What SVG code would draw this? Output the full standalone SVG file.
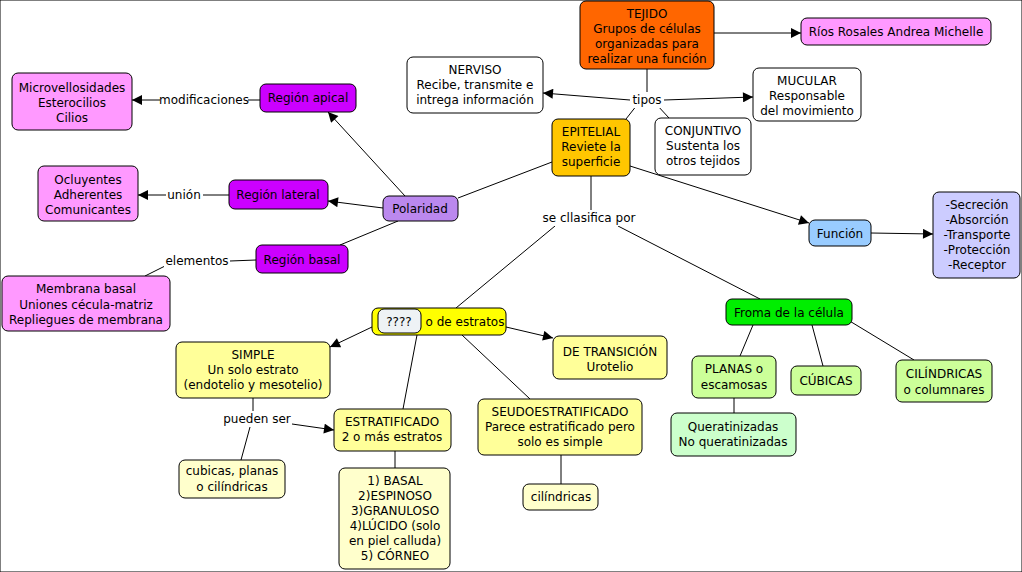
<svg xmlns="http://www.w3.org/2000/svg" width="1022" height="572" viewBox="0 0 1022 572">
<style>
text{font-family:"DejaVu Sans",Verdana,sans-serif;font-size:12px;text-anchor:middle;fill:#000}
rect{stroke:#000;stroke-width:1}
.c line{stroke:#000;stroke-width:1}
.lb{fill:#fff;stroke:none}
</style>
<defs><marker id="a" viewBox="0 0 10 10" refX="10" refY="5" markerWidth="12" markerHeight="10" markerUnits="userSpaceOnUse" orient="auto"><path d="M0,0L10,5L0,10z" fill="#000"/></marker></defs>
<rect width="1022" height="572" fill="#fff" stroke="none"/>
<g class="c">
<line x1="714" y1="33" x2="801" y2="33" marker-end="url(#a)"/>
<line x1="647" y1="69" x2="647" y2="92"/>
<line x1="630" y1="100" x2="543" y2="93" marker-end="url(#a)"/>
<line x1="664" y1="100" x2="753" y2="97" marker-end="url(#a)"/>
<line x1="637" y1="105" x2="626" y2="119"/>
<line x1="657" y1="105" x2="669" y2="118"/>
<line x1="552" y1="162" x2="458" y2="198"/>
<line x1="405" y1="196" x2="328" y2="112" marker-end="url(#a)"/>
<line x1="383" y1="208" x2="328" y2="201" marker-end="url(#a)"/>
<line x1="398" y1="221" x2="340" y2="245"/>
<line x1="260" y1="100" x2="246" y2="100"/>
<line x1="160" y1="100" x2="132" y2="100" marker-end="url(#a)"/>
<line x1="229" y1="195" x2="203" y2="195"/>
<line x1="166" y1="195" x2="138" y2="195" marker-end="url(#a)"/>
<line x1="256" y1="260" x2="230" y2="261"/>
<line x1="165" y1="266" x2="145" y2="276"/>
<line x1="630" y1="166" x2="809" y2="223" marker-end="url(#a)"/>
<line x1="871" y1="233" x2="933" y2="234" marker-end="url(#a)"/>
<line x1="591" y1="176" x2="591" y2="210"/>
<line x1="555" y1="226" x2="456" y2="308"/>
<line x1="618" y1="226" x2="760" y2="299"/>
<line x1="372" y1="327" x2="330" y2="347" marker-end="url(#a)"/>
<line x1="506" y1="327" x2="553" y2="338" marker-end="url(#a)"/>
<line x1="417" y1="335" x2="403" y2="409"/>
<line x1="462" y1="335" x2="530" y2="399"/>
<line x1="253" y1="398" x2="253" y2="411"/>
<line x1="292" y1="424" x2="334" y2="430" marker-end="url(#a)"/>
<line x1="250" y1="427" x2="241" y2="460"/>
<line x1="395" y1="451" x2="395" y2="468"/>
<line x1="561" y1="455" x2="561" y2="484"/>
<line x1="753" y1="325" x2="740" y2="356"/>
<line x1="812" y1="325" x2="823" y2="366"/>
<line x1="848" y1="320" x2="914" y2="360"/>
<line x1="734" y1="398" x2="734" y2="413"/>
</g>
<g id="labels">
<rect class="lb" x="630" y="92" width="34" height="16"/><text x="647" y="104">tipos</text>
<rect class="lb" x="160" y="92" width="88" height="16"/><text x="204" y="104">modificaciones</text>
<rect class="lb" x="166" y="187" width="36" height="16"/><text x="184" y="199">unión</text>
<rect class="lb" x="164" y="253" width="66" height="16"/><text x="197" y="265">elementos</text>
<rect class="lb" x="541" y="210" width="98" height="16"/><text x="589" y="222">se cllasifica por</text>
<rect class="lb" x="222" y="411" width="70" height="16"/><text x="257" y="423">pueden ser</text>
</g>
<g id="tejido"><rect x="580" y="1" width="134" height="68" rx="6" fill="#ff6600"/><text x="647" y="18">TEJIDO</text><text x="647" y="33">Grupos de células</text><text x="647" y="48">organizadas para</text><text x="647" y="63">realizar una función</text></g>
<g id="autor"><rect x="801" y="18" width="190" height="27" rx="6" fill="#ff99ff"/><text x="896" y="36">Ríos Rosales Andrea Michelle</text></g>
<g id="nerviso"><rect x="407" y="57" width="136" height="56" rx="6" fill="#fff"/><text x="475" y="74">NERVISO</text><text x="475" y="89">Recibe, transmite e</text><text x="475" y="104">intrega información</text></g>
<g id="mucular"><rect x="753" y="68" width="108" height="53" rx="6" fill="#fff"/><text x="807" y="85">MUCULAR</text><text x="807" y="100">Responsable</text><text x="807" y="115">del movimiento</text></g>
<g id="epitelial"><rect x="552" y="119" width="78" height="57" rx="6" fill="#ffc600"/><text x="591" y="136">EPITELIAL</text><text x="591" y="151">Reviete la</text><text x="591" y="166">superficie</text></g>
<g id="conjuntivo"><rect x="655" y="118" width="96" height="57" rx="6" fill="#fff"/><text x="703" y="135">CONJUNTIVO</text><text x="703" y="150">Sustenta los</text><text x="703" y="165">otros tejidos</text></g>
<g id="micro"><rect x="12" y="73" width="120" height="57" rx="6" fill="#ff99ff"/><text x="72" y="92">Microvellosidades</text><text x="72" y="107">Esterocilios</text><text x="72" y="122">Cilios</text></g>
<g id="apical"><rect x="260" y="84" width="96" height="28" rx="6" fill="#cc00ff"/><text x="308" y="102">Región apical</text></g>
<g id="ocluyentes"><rect x="38" y="166" width="100" height="55" rx="6" fill="#ff99ff"/><text x="88" y="184">Ocluyentes</text><text x="88" y="199">Adherentes</text><text x="88" y="214">Comunicantes</text></g>
<g id="lateral"><rect x="229" y="180" width="99" height="29" rx="6" fill="#cc00ff"/><text x="278" y="199">Región lateral</text></g>
<g id="polaridad"><rect x="383" y="196" width="75" height="25" rx="6" fill="#bb88ee"/><text x="420" y="213">Polaridad</text></g>
<g id="basal"><rect x="256" y="245" width="92" height="28" rx="6" fill="#cc00ff"/><text x="302" y="264">Región basal</text></g>
<g id="membrana"><rect x="2" y="276" width="168" height="55" rx="6" fill="#ff99ff"/><text x="86" y="293">Membrana basal</text><text x="86" y="309">Uniones cécula-matriz</text><text x="86" y="324">Repliegues de membrana</text></g>
<g id="funcion"><rect x="809" y="220" width="62" height="26" rx="6" fill="#99ccff"/><text x="840" y="238">Función</text></g>
<g id="secrecion"><rect x="933" y="192" width="87" height="86" rx="6" fill="#ccccff"/><text x="977" y="209">-Secreción</text><text x="977" y="224">-Absorción</text><text x="977" y="239">-Transporte</text><text x="977" y="254">-Protección</text><text x="977" y="269">-Receptor</text></g>
<g id="numero"><rect x="372" y="308" width="134" height="27" rx="6" fill="#ffff00"/><text x="465" y="326">o de estratos</text><rect x="378" y="309" width="43" height="24" rx="6" fill="#eef2f5"/><text x="399" y="326">????</text></g>
<g id="froma"><rect x="726" y="299" width="126" height="26" rx="6" fill="#00ee00"/><text x="789" y="317">Froma de la célula</text></g>
<g id="simple"><rect x="176" y="342" width="154" height="56" rx="6" fill="#ffff99"/><text x="253" y="359">SIMPLE</text><text x="253" y="374">Un solo estrato</text><text x="253" y="389">(endotelio y mesotelio)</text></g>
<g id="transicion"><rect x="553" y="336" width="114" height="43" rx="6" fill="#ffff99"/><text x="610" y="356">DE TRANSICIÓN</text><text x="610" y="371">Urotelio</text></g>
<g id="estratificado"><rect x="334" y="409" width="117" height="42" rx="6" fill="#ffff99"/><text x="392" y="426">ESTRATIFICADO</text><text x="392" y="441">2 o más estratos</text></g>
<g id="seudo"><rect x="478" y="399" width="164" height="56" rx="6" fill="#ffff99"/><text x="560" y="416">SEUDOESTRATIFICADO</text><text x="560" y="431">Parece estratificado pero</text><text x="560" y="446">solo es simple</text></g>
<g id="planas"><rect x="692" y="356" width="84" height="42" rx="6" fill="#ccff99"/><text x="734" y="373">PLANAS o</text><text x="734" y="389">escamosas</text></g>
<g id="cubicas"><rect x="791" y="366" width="70" height="29" rx="6" fill="#ccff99"/><text x="826" y="385">CÚBICAS</text></g>
<g id="cilindricas"><rect x="896" y="360" width="96" height="42" rx="6" fill="#ccff99"/><text x="944" y="378">CILÍNDRICAS</text><text x="944" y="394">o columnares</text></g>
<g id="queratin"><rect x="671" y="413" width="125" height="43" rx="6" fill="#ccffcc"/><text x="733" y="431">Queratinizadas</text><text x="733" y="446">No queratinizadas</text></g>
<g id="cubplanas"><rect x="179" y="460" width="106" height="38" rx="6" fill="#ffffcc"/><text x="232" y="475">cubicas, planas</text><text x="232" y="491">o cilíndricas</text></g>
<g id="capas"><rect x="339" y="468" width="111" height="101" rx="6" fill="#ffffcc"/><text x="395" y="485">1) BASAL</text><text x="395" y="500">2)ESPINOSO</text><text x="395" y="515">3)GRANULOSO</text><text x="395" y="530">4)LÚCIDO (solo</text><text x="395" y="545">en piel calluda)</text><text x="395" y="560">5) CÓRNEO</text></g>
<g id="cil2"><rect x="523" y="484" width="75" height="26" rx="6" fill="#ffffcc"/><text x="561" y="501">cilíndricas</text></g>
</svg>
